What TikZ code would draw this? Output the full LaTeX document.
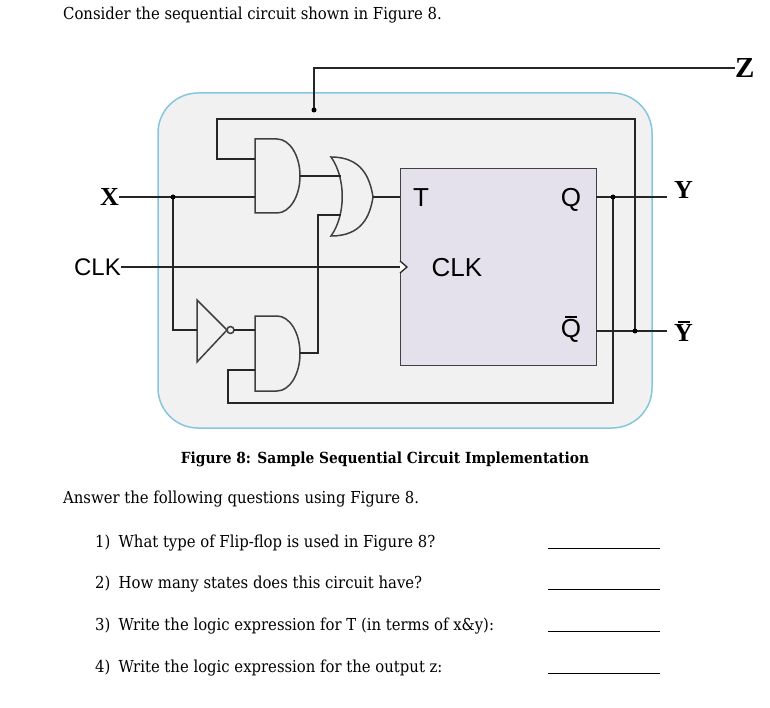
\documentclass[tikz,border=0pt]{standalone}
\usepackage{fontspec}
\setmainfont{Liberation Serif}
\newfontfamily\sansf{Liberation Sans}
\newfontfamily\capf{DejaVu Serif Condensed}
\definecolor{ffill}{HTML}{E4E0EC}
\definecolor{boxfill}{HTML}{F1F1F1}
\definecolor{boxline}{HTML}{86C6DE}
\begin{document}
\begin{tikzpicture}[x=1pt,y=-1pt,
  wire/.style={draw=black!85,line width=1.3pt},
  gate/.style={draw=black!75,line width=1.5pt,fill=none},
  dot/.style={circle,fill=black,inner sep=0pt,minimum size=5pt},
  body/.style={font=\capf\fontsize{16.5}{18}\selectfont,anchor=base west,inner sep=0pt},
  pin/.style={font=\sansf\fontsize{26}{28}\selectfont,inner sep=0pt},
  io/.style={font=\bfseries\fontsize{26}{28}\selectfont,inner sep=0pt},
  blank/.style={draw=black,line width=0.6pt}]
\useasboundingbox (0,0) rectangle (770,708);
% container
\draw[fill=boxfill,draw=boxline,line width=1.5pt,rounded corners=40pt] (158,93) rectangle (652,428);
% flip-flop
\node[draw=black!75,fill=ffill,line width=1.3pt,minimum width=196pt,minimum height=197pt,inner sep=0pt,anchor=north west] (ff) at (400,168) {};
\node[pin] (tl) at (421,198) {T};
\node[pin] (ql) at (571,200) {Q};
\node[pin] (cl) at (457,268) {CLK};
\node[pin] (qbl) at (571,331) {Q};
\draw[line width=1.6pt] ([xshift=-6pt,yshift=2pt]qbl.north) -- ([xshift=6pt,yshift=2pt]qbl.north);
% coordinates
\coordinate (T) at (400,197);
\coordinate (Q) at (596,197);
\coordinate (QB) at (596,331);
\coordinate (CK) at (400,267);
\coordinate (jq) at (613,197);
\coordinate (jqb) at (635,331);
\coordinate (jx) at (173,197);
\coordinate (jz) at (314,110);
% gates
\draw[gate] (255,139) -- (277,139) arc[start angle=90,end angle=-90,x radius=23pt,y radius=37pt] -- (255,213) -- cycle;
\draw[gate] (255,316) -- (277,316) arc[start angle=90,end angle=-90,x radius=23pt,y radius=37.5pt] -- (255,391) -- cycle;
\draw[gate] (331,157) .. controls (362,157) and (370,178) .. (373,197) .. controls (370,216) and (362,236) .. (331,236) .. controls (346,215) and (346,178) .. (331,157) -- cycle;
\draw[gate] (197,300) -- (227,330) -- (197,362) -- cycle;
\draw[gate] (230.5,330) circle (3.5pt);
% labels outside
\node[io,anchor=east] (X) at (119,197) {X};
\node[font=\sansf\fontsize{24}{26}\selectfont,inner sep=0pt,anchor=east] (CLK) at (121,267) {CLK};
\node[io,anchor=west] (Y) at (674,190) {Y};
\node[io,anchor=west] (YB) at (674,333) {Y};
\draw[line width=2pt] ([xshift=-6pt,yshift=2pt]YB.north) -- ([xshift=6pt,yshift=2pt]YB.north);
\node[font=\bfseries\fontsize{29}{31}\selectfont,inner sep=0pt,anchor=west] (Z) at (735,68) {Z};
% wires
\draw[wire] (X) -- (jx) -- (255,197);
\draw[wire] (jx) -- (173,330) -- (197,330);
\draw[wire] (234,330) -- (255,330);
\draw[wire] (CLK) -- (CK);
\draw[wire,fill=white] (400,261) -- (407,267) -- (400,273);
\draw[wire] (300,176) -- (341,176);
\draw[wire] (300,353) -- (318,353) -- (318,215) -- (341,215);
\draw[wire] (373,197) -- (T);
\draw[wire] (Q) -- (667,197);
\draw[wire] (QB) -- (667,331);
\draw[wire] (jq) -- (613,403) -- (228,403) -- (228,370) -- (255,370);
\draw[wire] (jqb) -- (635,119) -- (217,119) -- (217,159) -- (255,159);
\draw[wire] (jz) -- (314,68) -- (Z.west);
\node[dot] at (jq) {};
\node[dot] at (jqb) {};
\node[dot] at (jx) {};
\node[dot] at (jz) {};
% text
\node[body] (t0) at (63,20) {Consider the sequential circuit shown in Figure 8.};
\node[body,font=\capf\bfseries\fontsize{15.3}{17}\selectfont,anchor=base] (cap) at (385,463) {Figure 8: Sample Sequential Circuit Implementation};
\node[body] (t1) at (63,503) {Answer the following questions using Figure 8.};
\node[body] (q1) at (95,547) {1)\enspace What type of Flip-flop is used in Figure 8?};
\node[body] (q2) at (95,588) {2)\enspace How many states does this circuit have?};
\node[body] (q3) at (95,630) {3)\enspace Write the logic expression for T (in terms of x\&y):};
\node[body] (q4) at (95,672) {4)\enspace Write the logic expression for the output z:};
\foreach \yy/\n in {546/b1,587/b2,629/b3,671/b4}{
  \coordinate (\n a) at (548,\yy+2); \coordinate (\n b) at (660,\yy+2);
  \draw[blank] (\n a) -- (\n b);}
\end{tikzpicture}
\end{document}
